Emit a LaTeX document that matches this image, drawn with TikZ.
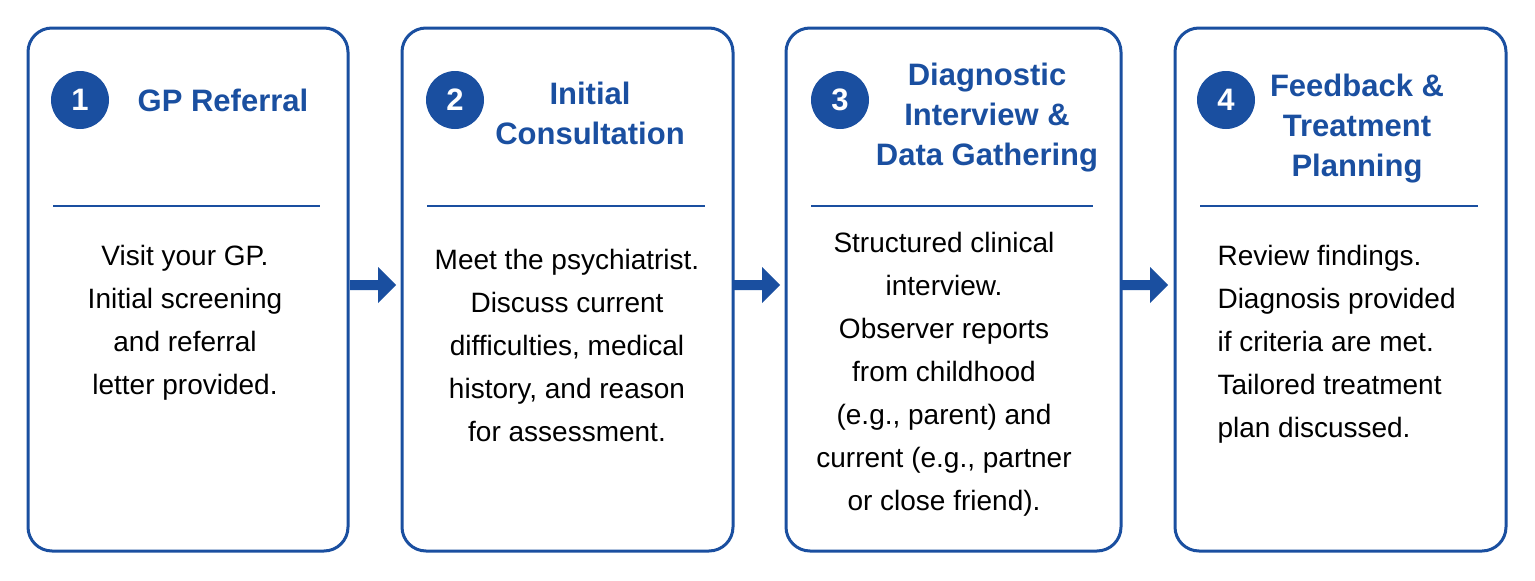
\documentclass[tikz,border=0pt]{standalone}
\usepackage{fontspec}
\setmainfont{Liberation Sans}
\definecolor{bl}{HTML}{1A4FA0}
\begin{document}
\begin{tikzpicture}[x=1pt,y=-1pt,
 box/.style={draw=bl,line width=3pt,rounded corners=24pt},
 num/.style={circle,fill=bl,minimum size=58pt,inner sep=0,text=white,font=\fontsize{31}{31}\selectfont\bfseries},
 ttl/.style={text=bl,font=\fontsize{31}{40}\selectfont\bfseries,align=center},
 body/.style={font=\fontsize{28}{43}\selectfont,align=center},
 sep/.style={draw=bl,line width=2pt}]
\useasboundingbox (0,0) rectangle (1535,581);
\foreach \a/\b/\n/\c in {28/348/1/80,402/733/2/455,786/1121/3/840,1175/1506/4/1226}{
 \draw[box] (\a,28) rectangle (\b,551);
 \node[num] (n\n) at (\c,100) {\n};
 \draw[sep] (\a+25,206) -- (\b-28,206);
}
\node[ttl] (t1) at (223,100) {GP Referral};
\node[ttl] (t2) at (590,113) {Initial\\Consultation};
\node[ttl] (t3) at (987,118) {Diagnostic\\Interview \&\\Data Gathering};
\node[ttl] (t4) at (1357,129) {Feedback \&\\Treatment\\Planning};
\node[body] (b1) at (185,323) {Visit your GP.\\Initial screening\\and referral\\letter provided.};
\node[body] (b2) at (567,345) {Meet the psychiatrist.\\Discuss current\\difficulties, medical\\history, and reason\\for assessment.};
\node[body] (b3) at (944,374) {Structured clinical\\interview.\\Observer reports\\from childhood\\(e.g., parent) and\\current (e.g., partner\\or close friend).};
\node[body,align=left,anchor=west] (b4) at (1214,344) {Review findings.\\Diagnosis provided\\if criteria are met.\\Tailored treatment\\plan discussed.};
\foreach \x in {350,734,1122}{
 \fill[bl] (\x,280) -- (\x+28,280) -- (\x+28,267) -- (\x+46,285) -- (\x+28,303) -- (\x+28,290) -- (\x,290) -- cycle;
}
\end{tikzpicture}
\end{document}
